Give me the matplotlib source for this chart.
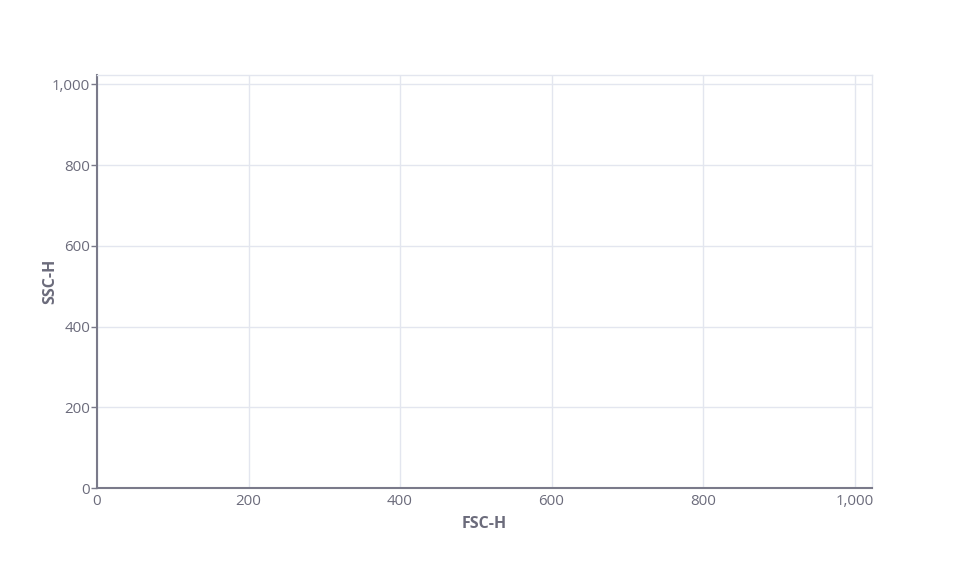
import matplotlib
matplotlib.use('Agg')
import matplotlib.pyplot as plt
from matplotlib.ticker import FuncFormatter

# Axis setup (empty scatter plot of flow cytometry channels)
x_label = 'FSC-H'
y_label = 'SSC-H'
x_range = [0, 1023]
y_range = [0, 1023]
x_ticks = [0, 200, 400, 600, 800, 1000]
y_ticks = [0, 200, 400, 600, 800, 1000]
fsc_values = []
ssc_values = []

plt.rcParams['font.family'] = ['Open Sans', 'DejaVu Sans']

W, H = 968, 575
fig = plt.figure(figsize=(W / 100, H / 100), dpi=100)
ax_l, ax_r, ax_t, ax_b = 97, 872, 75, 488
ax = fig.add_axes([ax_l / W, (H - ax_b) / H, (ax_r - ax_l) / W, (ax_b - ax_t) / H])

grid_col = '#e3e6ef'
axis_col = '#7a7a8a'
text_col = '#6b6b7b'

ax.scatter(fsc_values, ssc_values, s=4, color='#636efa')
ax.set_xlim(x_range)
ax.set_ylim(y_range)
ax.set_xticks(x_ticks)
ax.set_yticks(y_ticks)
fmt = FuncFormatter(lambda v, p: f'{int(v):,}')
ax.xaxis.set_major_formatter(fmt)
ax.yaxis.set_major_formatter(fmt)

ax.grid(True, color=grid_col, linewidth=1)
ax.set_axisbelow(True)
for side in ['top', 'right']:
    ax.spines[side].set_color(grid_col)
    ax.spines[side].set_linewidth(1)
for side in ['left', 'bottom']:
    ax.spines[side].set_color(axis_col)
    ax.spines[side].set_linewidth(1.5)

ax.tick_params(axis='y', length=4, width=1, color=axis_col, labelcolor=text_col,
               labelsize=10.8, pad=1)
ax.tick_params(axis='x', length=0, labelcolor=text_col, labelsize=10.8, pad=4)

ax.set_xlabel(x_label, fontsize=11.5, fontweight='bold', color=text_col, va='center')
ax.set_ylabel(y_label, fontsize=11.5, fontweight='bold', color=text_col, va='center')
ax.xaxis.set_label_coords(0.5, (ax_b - 524) / (ax_b - ax_t))
ax.yaxis.set_label_coords((50 - ax_l) / (ax_r - ax_l), 0.5)

fig.savefig('out.png', dpi=100, facecolor='white')
